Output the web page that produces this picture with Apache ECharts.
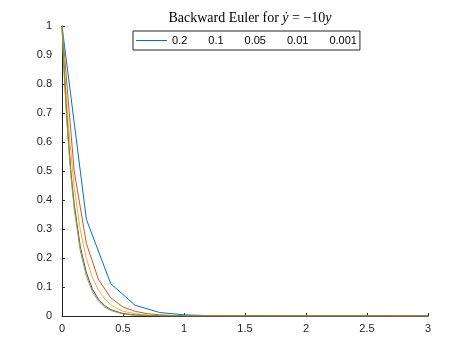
<!DOCTYPE html>
<html>
<head>
    <meta charset="utf-8">
    <title>backward euler</title>
    <style>
        html, body { margin: 0; padding: 0; background: #fff; }
        #chart { width: 474px; height: 355px; }
    </style>
    <script src="https://cdn.jsdelivr.net/npm/echarts@6/dist/echarts.min.js"></script>
</head>
<body>
<div id="chart"></div>
<script>
    // step sizes (legend names)
    const stepNames = ['0.2', '0.1', '0.05', '0.01', '0.001'];
    const lineColors = ['#0072BD', '#D95319', '#EDB120', '#7E2F8E', '#77AC30'];

    // h = 0.2
    const t02 = [0, 0.2, 0.4, 0.6, 0.8, 1.0, 1.2, 1.4, 1.6, 1.8, 2.0, 2.2, 2.4, 2.6, 2.8, 3.0];
    const y02 = [1, 0.333, 0.111, 0.037, 0.012, 0.004, 0.0014, 0.0005, 0.0002, 0.0001, 0, 0, 0, 0, 0, 0];
    // h = 0.1
    const t01 = [0, 0.1, 0.2, 0.3, 0.4, 0.5, 0.6, 0.7, 0.8, 0.9, 1.0, 1.1, 1.2, 3.0];
    const y01 = [1, 0.5, 0.25, 0.125, 0.0625, 0.031, 0.016, 0.008, 0.004, 0.002, 0.001, 0.0005, 0.0002, 0];
    // h = 0.05
    const t005 = [0, 0.05, 0.1, 0.15, 0.2, 0.25, 0.3, 0.35, 0.4, 0.45, 0.5, 0.55, 0.6, 0.65, 0.7, 0.75, 0.8, 3.0];
    const y005 = [1, 0.667, 0.444, 0.296, 0.198, 0.132, 0.088, 0.059, 0.039, 0.026, 0.017, 0.012, 0.008, 0.005, 0.0034, 0.0023, 0.0015, 0];
    // h = 0.01
    const t001 = [0, 0.01, 0.02, 0.03, 0.05, 0.075, 0.1, 0.15, 0.2, 0.25, 0.3, 0.35, 0.4, 0.5, 0.6, 0.8, 1.0, 3.0];
    const y001 = [1, 0.909, 0.826, 0.751, 0.621, 0.489, 0.386, 0.239, 0.149, 0.092, 0.057, 0.036, 0.022, 0.0085, 0.0033, 0.0005, 0.0001, 0];
    // h = 0.001
    const t0001 = [0, 0.01, 0.02, 0.03, 0.05, 0.075, 0.1, 0.15, 0.2, 0.25, 0.3, 0.35, 0.4, 0.5, 0.6, 0.8, 1.0, 3.0];
    const y0001 = [1, 0.905, 0.820, 0.742, 0.608, 0.474, 0.370, 0.225, 0.137, 0.083, 0.051, 0.031, 0.019, 0.007, 0.0026, 0.0003, 0.00005, 0];

    const times = [t02, t01, t005, t001, t0001];
    const values = [y02, y01, y005, y001, y0001];

    const axisColor = '#262626';
    const font = 'Liberation Sans, Arial, sans-serif';
    const serif = 'Liberation Serif, DejaVu Serif, serif';

    const series = stepNames.map(function (name, i) {
        return {
            name: name,
            type: 'line',
            symbol: 'none',
            animation: false,
            data: times[i].map(function (t, k) { return [t, values[i][k]]; }),
            lineStyle: { width: 1, color: lineColors[i] },
            itemStyle: { color: lineColors[i] }
        };
    });

    // matlab only drew the sample line for the first entry
    const legendData = stepNames.map(function (name, i) {
        if (i === 0) return { name: name, icon: 'rect', itemStyle: { color: lineColors[0], opacity: 1 } };
        return { name: name, icon: 'rect', itemStyle: { opacity: 0 }, lineStyle: { opacity: 0 } };
    });

    echarts.init(document.getElementById('chart')).setOption({
        animation: false,
        title: {
            text: '{n|Backward Euler for }{i|ẏ}{n| = −10}{i|y}',
            left: 245,
            textAlign: 'center',
            top: 6,
            textStyle: {
                rich: {
                    n: { fontFamily: serif, fontSize: 14, fontWeight: 'normal', color: '#000' },
                    i: { fontFamily: serif, fontSize: 14, fontWeight: 'normal', fontStyle: 'italic', color: '#000' }
                }
            }
        },
        legend: {
            data: legendData,
            left: 133,
            top: 31,
            padding: [4, 3, 4, 3],
            itemGap: -15,
            itemWidth: 31,
            itemHeight: 1,
            borderColor: axisColor,
            borderWidth: 1,
            selectedMode: false,
            textStyle: { fontFamily: font, fontSize: 11, color: '#000' }
        },
        grid: { left: 62, right: 46, top: 26, bottom: 39, containLabel: false },
        xAxis: {
            type: 'value',
            min: 0,
            max: 3,
            interval: 0.5,
            axisLine: { onZero: false, lineStyle: { color: axisColor, width: 1 } },
            axisTick: { inside: true, length: 3, lineStyle: { color: axisColor } },
            axisLabel: { color: axisColor, fontFamily: font, fontSize: 11, margin: 7 },
            splitLine: { show: false }
        },
        yAxis: {
            type: 'value',
            min: 0,
            max: 1,
            interval: 0.1,
            axisLine: { show: true, onZero: false, lineStyle: { color: axisColor, width: 1 } },
            axisTick: { show: true, inside: true, length: 3, lineStyle: { color: axisColor } },
            axisLabel: {
                color: axisColor, fontFamily: font, fontSize: 11, margin: 10,
                formatter: function (v) { return String(Math.round(v * 10) / 10); }
            },
            splitLine: { show: false }
        },
        series: series
    });
</script>
</body>
</html>
